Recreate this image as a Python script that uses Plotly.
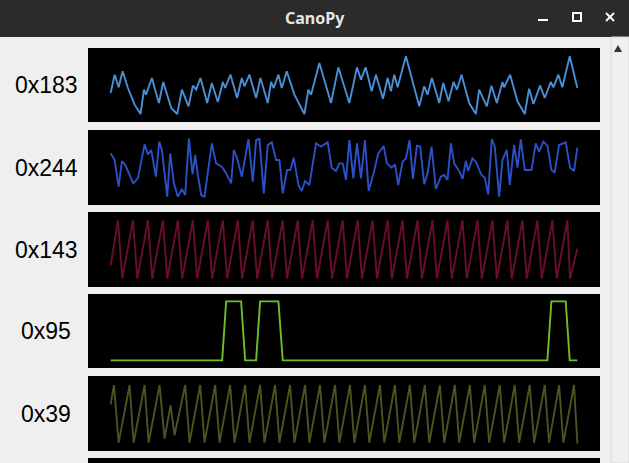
import plotly.graph_objects as go

W, H = 629, 463

labels = ["0x183", "0x244", "0x143", "0x95", "0x39"]
colors = ["#4a8fd6", "#2b50c8", "#6b0f26", "#6cbf2a", "#4d5220"]

# channel 0x183
t183 = [68,80,92,104,120,140,158,168,174,180,192,200,213,226,250,268,282,302,315,325,338,358,372,390,405,412,428,448,462,470,485,505,518,540,550,558,572,582,597,620,650,662,670,695,730,752,785,808,820,834,852,865,886,900,910,920,930,955,995,1010,1020,1033,1055,1067,1083,1098,1108,1122,1145,1165,1175,1198,1212,1228,1245,1250,1268,1290,1312,1325,1338,1358,1372,1390,1398,1413,1425,1447,1470]
v183 = [145,90,128,80,130,180,208,135,150,135,100,130,175,112,190,208,135,185,123,135,100,175,115,172,112,130,90,160,100,125,90,160,100,175,112,130,90,130,80,150,208,135,150,55,175,68,175,68,105,68,140,90,162,100,140,90,128,35,185,125,150,100,175,115,170,112,135,90,175,208,135,185,123,175,112,128,90,170,208,132,178,123,160,112,128,90,128,35,130]

# channel 0x244
t244 = [68,80,92,102,112,136,150,170,180,190,204,214,222,238,247,258,270,282,292,303,314,322,330,340,350,372,385,402,412,430,438,448,462,482,495,505,515,528,540,552,565,575,585,598,608,618,632,642,652,665,685,700,720,732,745,755,765,775,785,797,808,820,832,843,858,872,888,898,912,922,932,945,955,966,976,988,998,1010,1020,1032,1045,1060,1070,1080,1090,1100,1116,1125,1135,1142,1155,1165,1182,1192,1202,1213,1222,1235,1245,1258,1267,1280,1290,1300,1312,1332,1345,1355,1368,1380,1392,1402,1415,1435,1448,1460,1470]
v244 = [325,345,425,348,360,415,400,298,328,315,395,290,315,455,325,415,455,432,450,280,388,330,390,450,455,295,355,365,380,415,315,340,395,282,410,285,282,445,300,292,345,345,445,375,375,338,420,438,408,420,295,305,292,368,378,355,355,405,285,400,295,400,285,438,385,325,303,355,368,358,420,350,340,285,402,302,305,418,385,305,432,395,390,405,295,355,380,402,348,378,340,350,390,398,448,282,305,455,345,315,420,300,368,283,375,375,295,320,290,302,375,382,300,292,368,378,308]

# channel 0x143
t143 = [68,90,103,135,148,180,193,225,238,270,283,315,328,360,373,405,418,450,463,495,508,540,553,585,598,630,643,675,688,720,733,765,778,810,823,855,868,900,913,945,958,990,1003,1035,1048,1080,1093,1125,1138,1170,1183,1215,1228,1260,1273,1305,1318,1350,1363,1395,1408,1440,1448,1470]
v143 = [180,45,220,45,220,45,220,45,220,45,220,45,220,45,220,45,220,45,220,45,220,45,220,45,220,45,220,45,220,45,220,45,220,45,220,45,220,45,220,45,220,45,220,45,220,45,220,45,220,45,220,45,220,45,220,45,220,45,220,45,220,45,220,130]

# channel 0x95
t95 = [68,403,415,460,472,505,517,572,585,1380,1392,1435,1447,1470]
v95 = [467,467,290,290,467,467,290,290,467,467,290,290,467,467]

# channel 0x39
t39 = [68,78,92,125,137,170,182,215,230,248,260,292,305,337,350,382,395,427,440,472,485,517,530,562,575,607,620,652,665,697,710,742,755,787,800,832,845,877,890,922,935,967,980,1012,1025,1057,1070,1102,1115,1147,1160,1192,1205,1237,1250,1282,1295,1327,1340,1372,1385,1415,1428,1460,1470]
v39 = [598,540,712,540,712,540,712,540,700,600,690,540,712,540,712,540,712,540,712,540,712,540,712,540,712,540,712,540,712,540,712,540,712,540,712,540,712,540,712,540,712,540,712,540,712,540,712,540,712,540,712,540,712,540,712,540,712,540,712,540,712,540,712,540,715]

series = [(t183, v183), (t244, v244), (t143, v143), (t95, v95), (t39, v39)]
yranges = [[232, 10], [480, 255], [245, 20], [490, 268], [737, 513]]
rows_px = [(48, 122), (130, 205), (212, 287), (294, 368), (376, 451)]


def py(p):
    return 1 - p / H


fig = go.Figure()
layout = dict(width=W, height=H, margin=dict(l=0, r=0, t=0, b=0),
              paper_bgcolor="#efefef", plot_bgcolor="black", showlegend=False)

for i, (t, v) in enumerate(series):
    n = "" if i == 0 else str(i + 1)
    top, bot = rows_px[i]
    layout["xaxis" + n] = dict(domain=[88 / W, 600 / W], range=[0, 1538], visible=False,
                               anchor="y" + n, fixedrange=True)
    layout["yaxis" + n] = dict(domain=[py(bot), py(top)], range=yranges[i], visible=False,
                               anchor="x" + n, fixedrange=True)
    fig.add_trace(go.Scatter(x=t, y=v, mode="lines", line=dict(color=colors[i], width=1.9),
                             xaxis="x" + n, yaxis="y" + n, hoverinfo="skip"))

fig.update_layout(**layout)

shapes = [
    # title bar
    dict(type="rect", xref="paper", yref="paper", x0=0, x1=1, y0=py(37), y1=1,
         fillcolor="#2b2b2b", line_width=0, layer="above"),
    # scrollbar
    dict(type="rect", xref="paper", yref="paper", x0=611 / W, x1=1, y0=0, y1=py(37),
         fillcolor="#efefef", line=dict(color="#d8d8d8", width=1), layer="above"),
    dict(type="path", xref="paper", yref="paper",
         path=f"M {614/W},{py(52)} L {622/W},{py(52)} L {618/W},{py(45)} Z",
         fillcolor="#333333", line_width=0, layer="above"),
    # partially visible sixth channel
    dict(type="rect", xref="paper", yref="paper", x0=88 / W, x1=600 / W, y0=0, y1=py(458),
         fillcolor="black", line_width=0, layer="above"),
    # window buttons
    dict(type="line", xref="paper", yref="paper", x0=538 / W, x1=548 / W, y0=py(20), y1=py(20),
         line=dict(color="white", width=2), layer="above"),
    dict(type="rect", xref="paper", yref="paper", x0=573 / W, x1=581 / W, y0=py(21), y1=py(13),
         line=dict(color="white", width=2), layer="above"),
    dict(type="line", xref="paper", yref="paper", x0=606 / W, x1=614 / W, y0=py(13), y1=py(21),
         line=dict(color="white", width=2), layer="above"),
    dict(type="line", xref="paper", yref="paper", x0=606 / W, x1=614 / W, y0=py(21), y1=py(13),
         line=dict(color="white", width=2), layer="above"),
]
fig.update_layout(shapes=shapes)

fig.add_annotation(x=0.5, y=py(18), xref="paper", yref="paper", text="<b>CanoPy</b>",
                   xanchor="center", yanchor="middle",
                   showarrow=False, font=dict(family="Noto Sans", size=16, color="#e6e6e6"))
for i, lab in enumerate(labels):
    top, bot = rows_px[i]
    fig.add_annotation(x=46 / W, y=py((top + bot) / 2), xref="paper", yref="paper", text=lab,
                       xanchor="center", yanchor="middle",
                       showarrow=False, font=dict(family="Liberation Sans", size=23, color="black"))

fig.write_html("out.html", config={"displayModeBar": False},
               post_script="document.body.style.margin='0';")
